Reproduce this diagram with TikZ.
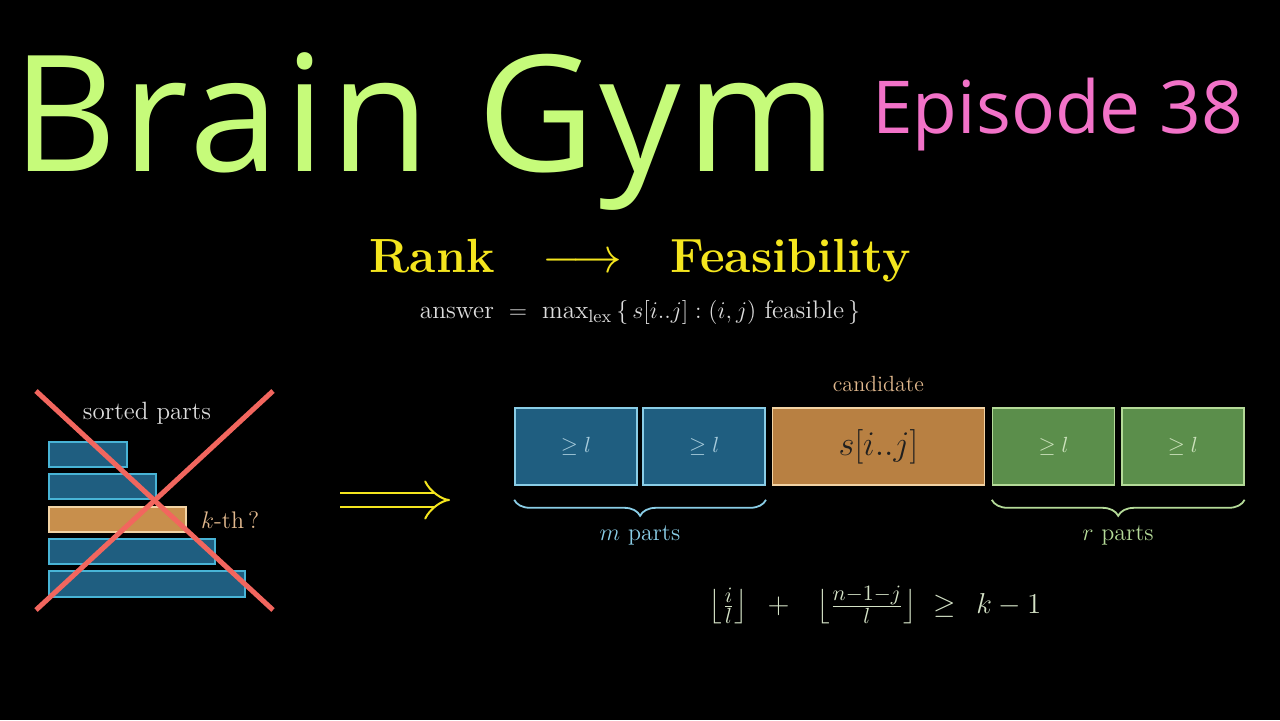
\documentclass[tikz,border=0pt]{standalone}
\usepackage{amsmath}
\usepackage{fontspec}
\newfontfamily\titlefont{Open Sans}[LetterSpace=3]
\newfontfamily\epifont{Open Sans}
\usetikzlibrary{positioning,decorations.pathreplacing,arrows.meta}

\definecolor{gymgreen}{HTML}{C6FB7A}
\definecolor{epipink}{HTML}{F272C8}
\definecolor{rankyellow}{HTML}{F4E51E}
\definecolor{softwhite}{HTML}{DDDDDD}
\definecolor{partblue}{HTML}{1F5E80}
\definecolor{partblueline}{HTML}{8ACDE6}
\definecolor{barline}{HTML}{48B4D6}
\definecolor{partbluetext}{HTML}{A8CCDC}
\definecolor{candorange}{HTML}{B88042}
\definecolor{barorange}{HTML}{C88F4C}
\definecolor{candline}{HTML}{F2D3A4}
\definecolor{candtext}{HTML}{E2B98E}
\definecolor{partgreen}{HTML}{5B8E4B}
\definecolor{partgreenline}{HTML}{B4DA98}
\definecolor{partgreentext}{HTML}{CCE2BC}
\definecolor{crossred}{HTML}{F2665E}
\definecolor{formulagreen}{HTML}{D4E2C6}

\begin{document}
\begin{tikzpicture}[x=0.5pt,y=-0.5pt,
    parte/.style={draw=partblueline,fill=partblue,line width=0.8pt,minimum width=61pt,
      minimum height=38.5pt,inner sep=0pt,text=partbluetext,font=\fontsize{11}{13}\selectfont},
    partev/.style={parte,draw=partgreenline,fill=partgreen,text=partgreentext},
    barra/.style={draw=barline,fill=partblue,line width=0.6pt},
    llave/.style={decorate,decoration={brace,mirror,amplitude=8pt},line width=0.9pt}]
    % Fondo negro
    \useasboundingbox[fill=black] (0,0) rectangle (1280,720);

    % Titulo y episodio
    \node[anchor=base west,inner sep=0pt,text=gymgreen,font=\titlefont\fontsize{81}{85}\selectfont]
      (titulo) at (12,171) {Brain Gym};
    \node[anchor=base west,inner sep=0pt,text=epipink,font=\epifont\fontsize{36.5}{40}\selectfont]
      (episodio) at (872,133) {Episode 38};

    % Rank -> Feasibility
    \node[anchor=base,text=rankyellow,font=\fontsize{24}{28}\selectfont] (rank) at (640,272)
      {\textbf{Rank}\quad$\longrightarrow$\quad\textbf{Feasibility}};
    \node[anchor=base,text=softwhite,font=\fontsize{12.7}{15}\selectfont] (answer) at (640,318)
      {answer $\;=\;$ $\max_{\mathrm{lex}}\,\{\,s[i..j] : (i,j)\ \text{feasible}\,\}$};

    % Partes ordenadas (tachado)
    \node[text=softwhite,font=\fontsize{12.5}{15}\selectfont] (sorted) at (147,413) {sorted parts};
    \draw[barra] (49,442) rectangle (127,467);
    \draw[barra] (49,474) rectangle (156,499);
    \draw[barra,draw=candline,fill=barorange] (49,507) rectangle (186,532);
    \draw[barra] (49,539) rectangle (215,564);
    \draw[barra] (49,571) rectangle (245,597);
    \node[anchor=west,text=candtext,font=\fontsize{12}{14}\selectfont] (kth) at (194,520) {$k$-th\,?};

    % La cruz roja
    \draw[crossred,line width=2.5pt] (36,391) -- (273,610);
    \draw[crossred,line width=2.5pt] (273,391) -- (36,610);

    % Flecha doble
    \coordinate (izq) at (340,500);
    \coordinate (der) at (450,500);
    \draw[rankyellow,double=black,double distance=6pt,line width=1pt,-{Implies}] (izq) -- (der);

    % Las partes
    \node[parte] (b1) at (576,446.5) {$\geq l$};
    \node[parte,right=2.3pt of b1] (b2) {$\geq l$};
    \node[parte,draw=candline,fill=candorange,minimum width=106pt,text=black!88,
      font=\fontsize{17}{20}\selectfont,right=2.8pt of b2] (cand) {$s[i..j]$};
    \node[partev,right=3.3pt of cand] (g1) {$\geq l$};
    \node[partev,right=2.8pt of g1] (g2) {$\geq l$};
    \node[above=4pt of cand,text=candtext,font=\fontsize{11}{13}\selectfont] (candlabel) {candidate};

    % Llaves
    \draw[llave,partblueline] (b1.south west) ++(0,14) coordinate (m1) -- (b2.south east |- m1) coordinate (m2);
    \draw[llave,partgreenline] (g1.south west) ++(0,14) coordinate (r1) -- (g2.south east |- r1) coordinate (r2);
    \node[text=partblueline,font=\fontsize{12}{14}\selectfont] (mparts) at (640,535) {$m$ parts};
    \node[text=partgreenline,font=\fontsize{12}{14}\selectfont] (rparts) at (1118,535) {$r$ parts};

    % Condicion
    \node[text=formulagreen,font=\fontsize{15}{18}\selectfont] (cond) at (875,605)
      {$\bigl\lfloor \tfrac{i}{l}\bigr\rfloor \;\,+\;\;\, \bigl\lfloor \tfrac{n-1-j}{l}\bigr\rfloor \;\geq\;\, k-1$};
  \end{tikzpicture}
\end{document}
